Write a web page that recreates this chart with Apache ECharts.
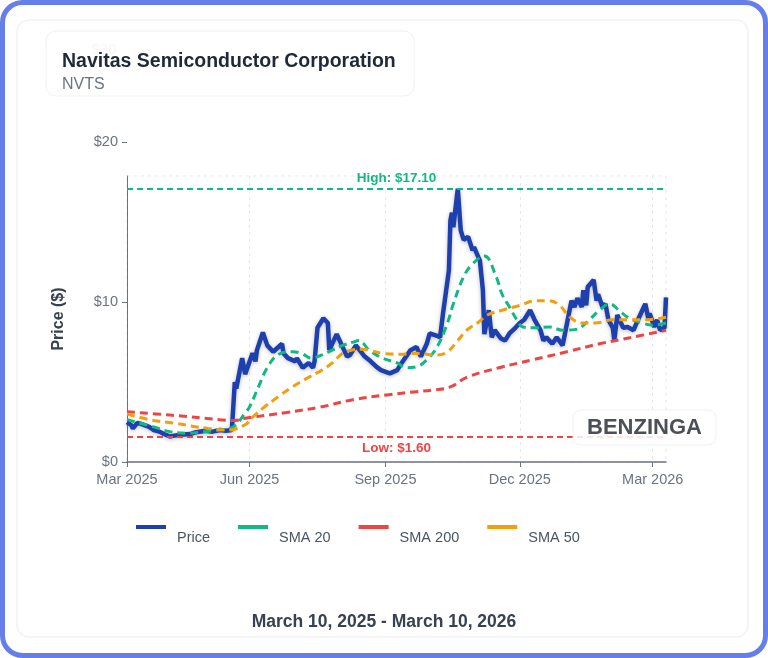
<!DOCTYPE html>
<html>
<head>
<meta charset="utf-8">
<script src="https://cdn.jsdelivr.net/npm/echarts@6/dist/echarts.min.js"></script>
<style>
  html, body { margin: 0; padding: 0; background: #fff; }
  #chart { width: 768px; height: 658px; }
</style>
</head>
<body>
<div id="chart"></div>
<script>
// 价格与均线数据
var price = [
  ['2025-03-10', 2.50], ['2025-03-13', 2.30], ['2025-03-14', 2.10], ['2025-03-17', 2.45],
  ['2025-03-19', 2.40], ['2025-03-25', 2.20], ['2025-03-28', 2.00], ['2025-04-01', 1.90],
  ['2025-04-04', 1.75], ['2025-04-08', 1.60], ['2025-04-11', 1.65], ['2025-04-15', 1.70],
  ['2025-04-22', 1.75], ['2025-04-25', 1.85], ['2025-05-02', 1.95], ['2025-05-07', 1.90],
  ['2025-05-12', 2.00], ['2025-05-16', 1.95], ['2025-05-20', 2.00], ['2025-05-21', 2.05],
  ['2025-05-22', 5.00], ['2025-05-23', 4.60], ['2025-05-27', 6.50], ['2025-05-29', 5.50],
  ['2025-06-03', 6.80], ['2025-06-05', 6.30], ['2025-06-06', 7.00], ['2025-06-10', 8.10],
  ['2025-06-13', 7.30], ['2025-06-17', 6.90], ['2025-06-23', 7.40], ['2025-06-24', 6.80],
  ['2025-06-27', 6.50], ['2025-07-02', 6.30], ['2025-07-03', 6.50], ['2025-07-07', 5.90],
  ['2025-07-11', 6.20], ['2025-07-14', 5.90], ['2025-07-15', 6.30], ['2025-07-17', 8.40],
  ['2025-07-21', 9.00], ['2025-07-24', 8.70], ['2025-07-25', 7.00], ['2025-07-30', 8.00],
  ['2025-08-04', 7.00], ['2025-08-06', 6.60], ['2025-08-08', 6.70], ['2025-08-12', 7.30],
  ['2025-08-18', 6.60], ['2025-08-22', 6.30], ['2025-08-26', 5.95], ['2025-08-29', 5.75],
  ['2025-09-04', 5.55], ['2025-09-09', 5.75], ['2025-09-12', 6.20], ['2025-09-18', 7.00],
  ['2025-09-22', 7.20], ['2025-09-25', 6.60], ['2025-09-29', 7.40], ['2025-10-01', 8.05],
  ['2025-10-06', 7.90], ['2025-10-08', 7.80], ['2025-10-10', 9.30], ['2025-10-14', 12.00],
  ['2025-10-15', 15.10], ['2025-10-16', 15.60], ['2025-10-17', 14.70], ['2025-10-20', 17.10],
  ['2025-10-22', 14.50], ['2025-10-24', 13.90], ['2025-10-27', 14.10], ['2025-10-30', 13.25],
  ['2025-10-31', 13.45], ['2025-11-03', 12.80], ['2025-11-04', 12.60], ['2025-11-06', 10.75],
  ['2025-11-07', 8.00], ['2025-11-10', 9.50], ['2025-11-12', 7.80], ['2025-11-14', 8.25],
  ['2025-11-18', 7.75], ['2025-11-21', 7.60], ['2025-11-24', 8.05], ['2025-11-28', 8.40],
  ['2025-12-01', 8.70], ['2025-12-04', 8.90], ['2025-12-08', 9.50], ['2025-12-11', 8.90],
  ['2025-12-15', 8.25], ['2025-12-17', 7.60], ['2025-12-19', 7.80], ['2025-12-23', 7.40],
  ['2025-12-26', 7.80], ['2025-12-30', 7.30], ['2025-12-31', 7.20], ['2026-01-02', 8.70],
  ['2026-01-05', 10.10], ['2026-01-07', 9.70], ['2026-01-09', 10.25], ['2026-01-12', 9.70],
  ['2026-01-13', 10.75], ['2026-01-15', 9.80], ['2026-01-16', 10.95], ['2026-01-20', 11.40],
  ['2026-01-22', 10.10], ['2026-01-23', 10.50], ['2026-01-26', 9.70], ['2026-01-28', 9.90],
  ['2026-01-30', 8.90], ['2026-02-02', 8.40], ['2026-02-03', 7.60], ['2026-02-05', 9.20],
  ['2026-02-06', 9.10], ['2026-02-09', 8.40], ['2026-02-12', 8.45], ['2026-02-16', 8.25],
  ['2026-02-19', 8.90], ['2026-02-23', 9.70], ['2026-02-24', 9.90], ['2026-02-26', 9.00],
  ['2026-02-27', 9.30], ['2026-03-02', 8.45], ['2026-03-04', 8.90], ['2026-03-06', 8.25],
  ['2026-03-09', 8.40], ['2026-03-10', 10.30]
];

var sma20 = [
  ['2025-03-10', 2.65], ['2025-03-28', 2.20], ['2025-04-08', 1.90], ['2025-04-20', 1.80],
  ['2025-05-01', 1.90], ['2025-05-12', 2.00], ['2025-05-21', 2.20], ['2025-05-29', 3.06],
  ['2025-06-01', 3.45], ['2025-06-07', 4.70], ['2025-06-13', 5.90], ['2025-06-20', 6.70],
  ['2025-06-30', 6.90], ['2025-07-06', 6.80], ['2025-07-13', 6.50], ['2025-07-20', 6.70],
  ['2025-07-27', 7.00], ['2025-08-03', 7.30], ['2025-08-10', 7.50], ['2025-08-14', 7.60],
  ['2025-08-21', 7.00], ['2025-08-30', 6.50], ['2025-09-09', 6.20], ['2025-09-15', 5.90],
  ['2025-09-22', 5.96], ['2025-09-29', 6.40], ['2025-10-06', 7.20], ['2025-10-13', 8.70],
  ['2025-10-17', 9.90], ['2025-10-24', 11.60], ['2025-10-30', 12.40], ['2025-11-07', 12.90],
  ['2025-11-15', 11.60], ['2025-11-19', 10.50], ['2025-11-24', 9.70], ['2025-11-29', 8.90],
  ['2025-12-03', 8.45], ['2025-12-12', 8.40], ['2025-12-21', 8.45], ['2025-12-30', 8.25],
  ['2026-01-08', 8.30], ['2026-01-17', 8.90], ['2026-01-24', 9.50], ['2026-01-31', 9.90],
  ['2026-02-06', 9.50], ['2026-02-13', 9.00], ['2026-02-22', 8.70], ['2026-03-01', 8.56],
  ['2026-03-10', 8.70]
];

var sma200 = [
  ['2025-03-10', 3.15], ['2025-04-08', 2.94], ['2025-05-12', 2.65], ['2025-05-22', 2.60],
  ['2025-05-30', 2.75], ['2025-06-26', 3.10], ['2025-07-19', 3.44], ['2025-08-10', 3.90],
  ['2025-09-02', 4.20], ['2025-09-22', 4.40], ['2025-10-03', 4.50], ['2025-10-15', 4.70],
  ['2025-10-26', 5.30], ['2025-11-17', 5.90], ['2025-12-10', 6.40], ['2026-01-02', 6.90],
  ['2026-01-24', 7.40], ['2026-02-15', 7.80], ['2026-03-10', 8.25]
];

var sma50 = [
  ['2025-03-10', 3.00], ['2025-03-28', 2.60], ['2025-04-10', 2.44], ['2025-05-04', 2.10],
  ['2025-05-19', 2.00], ['2025-05-22', 2.05], ['2025-05-30', 2.40], ['2025-06-03', 2.80],
  ['2025-06-11', 3.44], ['2025-06-20', 4.06], ['2025-06-30', 4.70], ['2025-07-11', 5.30],
  ['2025-07-20', 5.75], ['2025-07-27', 6.20], ['2025-08-03', 6.80], ['2025-08-09', 7.00],
  ['2025-08-16', 7.05], ['2025-08-21', 7.00], ['2025-08-30', 6.80], ['2025-09-11', 6.75],
  ['2025-09-22', 6.80], ['2025-10-06', 6.70], ['2025-10-13', 6.90], ['2025-10-20', 7.60],
  ['2025-10-26', 8.25], ['2025-11-03', 8.75], ['2025-11-09', 9.20], ['2025-11-19', 9.50],
  ['2025-12-01', 9.80], ['2025-12-12', 10.10], ['2025-12-21', 10.10], ['2025-12-28', 9.80],
  ['2026-01-04', 9.06], ['2026-01-12', 8.70], ['2026-01-21', 8.70], ['2026-02-02', 8.90],
  ['2026-02-13', 8.90], ['2026-02-24', 8.90], ['2026-03-10', 9.06]
];

var highValue = 17.10;
var lowValue = 1.60;
var startDate = '2025-03-10';
var endDate = '2026-03-10';
var xTickDates = ['2025-03-10', '2025-06-01', '2025-09-01', '2025-12-01', '2026-03-01'];
var yTicks = [0, 10];
var yTicksUpper = [20];
var monthNames = ['Jan', 'Feb', 'Mar', 'Apr', 'May', 'Jun', 'Jul', 'Aug', 'Sep', 'Oct', 'Nov', 'Dec'];

var FONT = '"Liberation Sans", Arial, sans-serif';
var GREY = '#6b7280';

var mychart = echarts.init(document.getElementById('chart'));

function ts(s) { return echarts.time.parse(s).getTime(); }
function toPoints(arr) { return arr.map(function (p) { return [ts(p[0]), p[1]]; }); }
function money(v) { return '$' + v; }

var xTickValues = xTickDates.map(ts);
var dashed = [8, 5];
// 图例线条在上, 文字偏下 (空的第二段只用来撑高图标)
var legendIcon = 'path://M0,0L30,0L30,4L0,4ZM0,26L0.01,26';

var option = {
    animation: false,
    backgroundColor: '#fff',
    textStyle: { fontFamily: FONT },
    grid: [
        { left: 127, right: 102, top: 176, bottom: 196, show: true, borderColor: '#e5e7eb', borderWidth: 1, borderType: [3, 4] },
        { left: 127, right: 102, top: 142, bottom: 196 }
    ],
    xAxis: [{
        type: 'value',
        gridIndex: 0,
        min: ts(startDate),
        max: ts(endDate),
        axisLine: { lineStyle: { color: GREY, width: 1.5 } },
        axisTick: { show: true, length: 5, lineStyle: { color: GREY }, customValues: xTickValues },
        axisLabel: {
            customValues: xTickValues,
            color: GREY, fontSize: 14.5, fontFamily: FONT, margin: 10,
            formatter: function (v) {
                var d = new Date(v);
                return monthNames[d.getMonth()] + ' ' + d.getFullYear();
            }
        },
        splitLine: { show: true, lineStyle: { color: '#e5e7eb', type: [3, 4] } }
    }, {
        type: 'value', gridIndex: 1, show: false, min: 0, max: 1
    }],
    yAxis: [{
        type: 'value',
        gridIndex: 0,
        min: 0,
        max: 17.9,
        name: 'Price ($)',
        nameLocation: 'middle',
        nameGap: 60,
        nameTextStyle: { color: '#374151', fontSize: 16, fontWeight: 'bold', fontFamily: FONT },
        axisLine: { show: true, lineStyle: { color: GREY, width: 1 } },
        axisTick: { show: true, length: 5, lineStyle: { color: GREY }, customValues: yTicks },
        axisLabel: { customValues: yTicks, color: GREY, fontSize: 14.5, fontFamily: FONT, margin: 9, formatter: money },
        splitLine: { show: false }
    }, {
        type: 'value',
        gridIndex: 1,
        min: 0,
        max: 20,
        axisLine: { show: false },
        axisTick: { show: true, length: 5, lineStyle: { color: GREY }, customValues: yTicksUpper },
        axisLabel: { customValues: yTicksUpper, color: GREY, fontSize: 14.5, fontFamily: FONT, margin: 9, formatter: money },
        splitLine: { show: false }
    }],
    legend: {
        left: 131,
        top: 520,
        icon: legendIcon,
        itemWidth: 30,
        itemHeight: 26,
        itemGap: 28,
        textStyle: { color: '#4b5563', fontSize: 14.5, fontFamily: FONT, padding: [0, 0, 0, 6] },
        data: ['Price', 'SMA 20', 'SMA 200', 'SMA 50']
    },
    series: [{
        name: 'Price',
        type: 'line',
        data: toPoints(price),
        showSymbol: false,
        color: '#1e40af',
        lineStyle: { width: 4.5, color: '#1e40af', shadowColor: 'rgba(0,0,0,0.25)', shadowBlur: 4, shadowOffsetY: 1 },
        markLine: {
            silent: true,
            symbol: 'none',
            data: [{
                yAxis: highValue,
                lineStyle: { color: '#10b981', type: [6, 4], width: 2 },
                label: {
                    position: 'insideMiddleTop', distance: 4,
                    formatter: 'High: $' + highValue.toFixed(2),
                    color: '#10b981', fontWeight: 'bold', fontSize: 13.5, fontFamily: FONT
                }
            }, {
                yAxis: lowValue,
                lineStyle: { color: '#ef4444', type: [6, 4], width: 2 },
                label: {
                    position: 'insideMiddleBottom', distance: 5,
                    formatter: 'Low: $' + lowValue.toFixed(2),
                    color: '#ef4444', fontWeight: 'bold', fontSize: 13.5, fontFamily: FONT
                }
            }]
        }
    }, {
        name: 'SMA 20',
        type: 'line',
        data: toPoints(sma20),
        smooth: 0.4,
        showSymbol: false,
        color: '#10b981',
        lineStyle: { width: 3, color: '#10b981', type: dashed }
    }, {
        name: 'SMA 200',
        type: 'line',
        data: toPoints(sma200),
        smooth: 0.4,
        showSymbol: false,
        color: '#ef4444',
        lineStyle: { width: 3, color: '#ef4444', type: dashed }
    }, {
        name: 'SMA 50',
        type: 'line',
        data: toPoints(sma50),
        smooth: 0.4,
        showSymbol: false,
        color: '#f59e0b',
        lineStyle: { width: 3, color: '#f59e0b', type: dashed }
    }],
    graphic: [
        // 外框
        { type: 'rect', z: 0, silent: true, shape: { x: 2.5, y: 2.5, width: 763, height: 653, r: 20 },
          style: { fill: 'none', stroke: '#667eea', lineWidth: 5 } },
        { type: 'rect', z: 0, silent: true, shape: { x: 17, y: 20, width: 731, height: 617, r: 12 },
          style: { fill: 'none', stroke: '#f1f2f4', lineWidth: 1.5 } },
        // 标题框后面的 $30
        { type: 'text', z: 1, left: 92, top: 42, style: { text: '$30', fill: '#9ca3af', font: '14.5px ' + FONT } },
        { type: 'rect', z: 2, silent: true, shape: { x: 46, y: 31, width: 368, height: 65, r: 10 },
          style: { fill: 'rgba(255,255,255,0.9)', stroke: '#f0f1f3', lineWidth: 1 } },
        { type: 'text', z: 3, left: 62, top: 52, style: { text: 'Navitas Semiconductor Corporation', fill: '#1f2937', font: 'bold 19.5px ' + FONT } },
        { type: 'text', z: 3, left: 62, top: 77, style: { text: 'NVTS', fill: GREY, font: '16px ' + FONT } },
        // 水印
        { type: 'rect', z: 100, silent: true, shape: { x: 573, y: 410, width: 143, height: 35, r: 8 },
          style: { fill: 'rgba(255,255,255,0.85)', stroke: '#f0f1f3', lineWidth: 1 } },
        { type: 'text', z: 101, left: 587, top: 417, style: { text: 'BENZINGA', fill: '#4b4f56', font: 'bold 22px ' + FONT } },
        // 日期范围
        { type: 'text', z: 3, left: 'center', top: 613, style: { text: 'March 10, 2025 - March 10, 2026', fill: '#374151', font: 'bold 17.5px ' + FONT } }
    ]
};

mychart.setOption(option);
</script>
</body>
</html>
